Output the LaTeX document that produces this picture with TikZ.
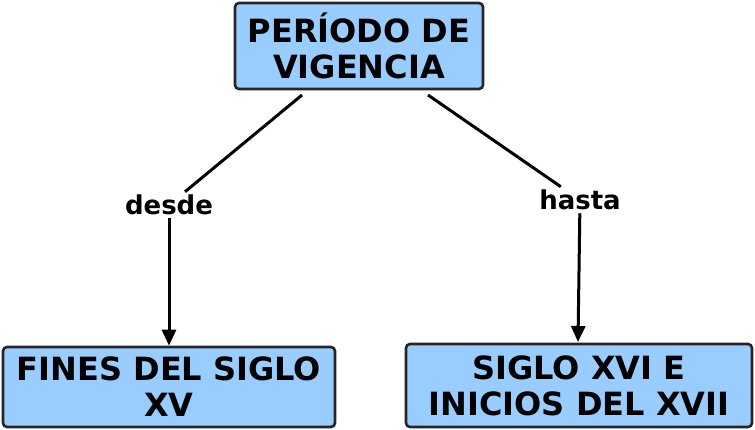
\documentclass[tikz,border=0pt]{standalone}
\usepackage{fontspec}
\setmainfont{DejaVu Sans}
\usetikzlibrary{arrows.meta}
\definecolor{boxblue}{HTML}{99CCFF}
\tikzset{
  concept/.style={draw=black!85, line width=2.6pt, fill=boxblue, rounded corners=4pt,
    align=center, font=\bfseries\fontsize{32}{36}\selectfont, inner sep=0pt},
  linklabel/.style={fill=white, font=\bfseries\fontsize{26}{30}\selectfont, inner sep=3pt},
  link/.style={line width=3pt},
}
\begin{document}
\begin{tikzpicture}[x=1pt,y=-1pt]
    \useasboundingbox (0,0) rectangle (755,430);
    % concepts
    \node [concept, minimum width=248pt, minimum height=86pt] (periodo) at (359,46) {PERÍODO DE\\VIGENCIA};
    \node [concept, minimum width=332pt, minimum height=80pt] (fines) at (169,387) {FINES DEL SIGLO\\XV};
    \node [concept, minimum width=346pt, minimum height=83pt] (siglo) at (579,385.5) {SIGLO XVI E\\INICIOS DEL XVII};
    % links
    \node [linklabel] (desde) at (169,205) {desde};
    \node [linklabel] (hasta) at (580,200) {hasta};
    \draw [link] (302,95) -- (desde);
    \draw [link, -{Triangle[length=16pt,width=14pt]}] (desde) -- (fines);
    \draw [link] (428,95) -- (hasta);
    \draw [link, -{Triangle[length=16pt,width=14pt]}] (hasta) -- (578,342);
\end{tikzpicture}
\end{document}
